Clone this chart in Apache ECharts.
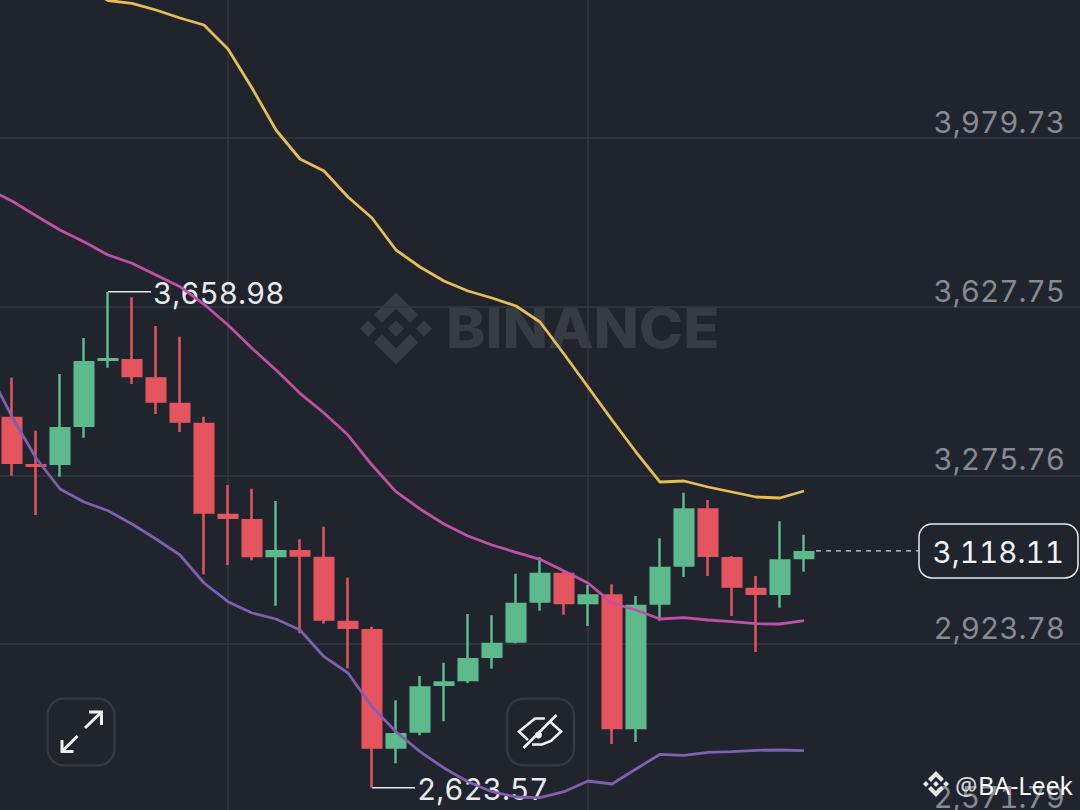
<!DOCTYPE html>
<html>
<head>
<meta charset="utf-8">
<style>html,body{margin:0;padding:0;background:#20242d}#chart{width:1080px;height:810px}#chart text{font-feature-settings:"tnum" 1 !important;font-variant-numeric:tabular-nums !important}</style>
<script src="https://cdn.jsdelivr.net/npm/echarts@6/dist/echarts.min.js"></script>
</head>
<body>
<div id="chart"></div>
<script>
// Candles: the first slot sits just off the left edge and only carries the band lines.
const opens = [null,3398.31,3299.56,3297.47,3376.80,3514.59,3518.77,3480.56,3427.53,3385.78,3195.80,3184.73,3104.78,3120.01,3106.03,2972.42,2955.09,2705.19,2738.59,2836.09,2845.90,2894.54,2926.49,3010.01,3072.62,3006.67,3027.53,2745.69,3005.83,3085.15,3207.07,3105.40,3041.30,3026.07,3100.60];
const closes = [null,3299.56,3293.29,3376.80,3514.59,3520.85,3480.56,3427.53,3385.78,3195.80,3184.73,3104.78,3120.01,3106.03,2972.42,2955.09,2705.19,2737.97,2835.46,2845.90,2894.54,2926.49,3010.01,3072.62,3006.67,3027.53,2745.69,3005.83,3085.15,3207.07,3105.40,3041.30,3026.07,3100.60,3118.11];
const lows = [null,3275.13,3193.08,3273.04,3354.46,3500.60,3466.57,3403.94,3366.36,3069.28,3088.70,3098.52,3003.73,2946.11,2966.16,2873.04,2623.57,2674.71,2733.16,2762.39,2842.35,2872.20,2925.23,2993.29,2984.94,2961.35,2715.00,2719.18,2972.42,3063.65,3065.73,2982.23,2907.07,2999.56,3074.72];
const highs = [null,3479.73,3369.08,3487.45,3562.61,3658.98,3647.58,3587.66,3565.32,3398.31,3255.72,3248.00,3222.31,3142.35,3168.66,3062.19,2959.88,2806.23,2856.96,2884.73,2986.40,2983.69,3070.54,3104.78,3075.13,3046.95,3048.41,3023.98,3144.44,3239.64,3224.40,3107.49,3065.73,3179.93,3151.96];
const upperBand = [null,null,null,null,4297.48,4267.21,4261.36,4247.37,4230.67,4216.06,4165.95,4084.53,3996.85,3936.31,3911.25,3856.97,3813.13,3746.33,3710.83,3681.61,3660.73,3646.12,3629.42,3596.01,3529.20,3460.31,3391.42,3324.61,3261.98,3264.07,3251.54,3241.11,3230.67,3228.58,3243.19];
const middleBand = [3873.67,3848.62,3817.93,3788.08,3763.65,3735.89,3718.56,3694.13,3669.70,3632.96,3589.75,3541.10,3495.80,3447.17,3406.03,3360.10,3297.47,3241.73,3205.61,3174.29,3149.24,3130.45,3115.21,3100.60,3076.17,3051.12,3009.37,2994.75,2975.96,2978.67,2973.88,2970.33,2966.15,2965.53,2972.42];
const lowerBand = [3495.80,3398.31,3312.08,3247.37,3220.22,3202.07,3174.29,3142.98,3109.58,3051.12,3012.08,2988.49,2975.96,2953.00,2897.25,2863.22,2792.87,2740.68,2698.93,2664.90,2636.30,2615.42,2604.35,2602.89,2615.42,2637.76,2631.49,2662.81,2693.50,2691.41,2697.67,2698.93,2701.85,2702.47,2701.01];
const slotCount = 46;
const categories = Array.from({length: slotCount}, (_, i) => String(i));
const verticalLineSlots = ['10', '25'];
const tickValues = [2571.79, 2923.78, 3275.76, 3627.75, 3979.73, 4331.72];
const extremeSlots = [5, 16];
const extremePrices = [3658.98, 2623.57];
const lastSlot = 34;
const lastPrice = 3118.11;

const fmt = v => v.toLocaleString('en-US', {minimumFractionDigits: 2, maximumFractionDigits: 2});
const FONT = 'Inter';
const FONT_SIZE = 29.7;
const GREEN = '#5cba8c', RED = '#e5555f';
const logoShapes = [
  [[38.73,53.2],[63.32,28.62],[87.92,53.22],[102.22,38.91],[63.32,0],[24.42,38.9]],
  [[0,63.31],[14.3,49],[28.61,63.31],[14.3,77.61]],
  [[38.73,73.41],[63.32,98],[87.92,73.4],[102.23,87.69],[63.33,126.6],[24.42,87.72]],
  [[98.01,63.31],[112.31,49],[126.61,63.3],[112.31,77.62]],
  [[77.83,63.3],[63.32,48.78],[48.81,63.28],[63.32,77.78]]
];
const logo = (x, y, size, fill, z) => ({
  type: 'group', x, y, scaleX: size / 126.61, scaleY: size / 126.61,
  children: logoShapes.map(points => ({type: 'polygon', z, shape: {points}, style: {fill}}))
});
const candleData = opens.map((o, i) => [o, closes[i], lows[i], highs[i]]);

const chart = echarts.init(document.getElementById('chart'), null, {renderer: 'svg'});
const btn = (x, y) => ({type: 'rect', z: 100, shape: {x, y, width: 67, height: 67, r: 17}, style: {fill: 'rgba(0,0,0,0)', stroke: '#353944', lineWidth: 2.5}});
const wl = (points, w) => ({type: 'polyline', z: 101, shape: {points}, style: {fill: null, stroke: '#f0f1f3', lineWidth: w || 3, lineJoin: 'miter'}});

chart.setOption({
  animation: false,
  backgroundColor: '#20242d',
  grid: {left: -24, width: 1104, top: -30.4, height: 843, outerBoundsMode: 'none'},
  xAxis: {
    type: 'category', data: categories, boundaryGap: true, show: true,
    axisLine: {show: false}, axisTick: {show: false}, axisLabel: {show: false}, splitLine: {show: false}
  },
  yAxis: {
    type: 'value', position: 'right', scale: true,
    min: tickValues[0], max: tickValues[tickValues.length - 1], interval: 351.986,
    axisLine: {show: false}, axisTick: {show: false},
    splitLine: {show: true, lineStyle: {color: '#333742', width: 1.5}},
    axisLabel: {
      inside: true, margin: 15, showMaxLabel: false, color: '#868a91',
      fontFamily: FONT, fontSize: FONT_SIZE, verticalAlign: 'bottom', padding: [0, 0, 1, 0],
      lineHeight: 30, formatter: fmt
    }
  },
  graphic: [
    logo(360, 292.5, 72, '#373b44', -1),
    {type: 'text', z: -1, x: 446, y: 328, scaleX: 1.08, style: {text: 'BINANCE', font: '800 55px Inter', fill: '#373b44', textVerticalAlign: 'middle'}},
    btn(47.5, 698.5),
    wl([[85, 728], [101.5, 712]]), wl([[89, 712], [101.5, 712], [101.5, 725]]),
    wl([[77.5, 736], [62, 751.5]]), wl([[62, 740], [62, 751.5], [73.5, 751.5]]),
    btn(507, 698.5),
    wl([[523.5, 748], [556.5, 715]], 2.6),
    wl([[545, 718.5], [535, 718.5], [519, 731.5], [528, 740]], 2.6),
    wl([[550, 721.5], [561, 731.5], [551, 741], [542, 744.5], [532, 744.5]], 2.6),
    {type: 'circle', z: 101, shape: {cx: 538.5, cy: 735, r: 3.5}, style: {fill: '#f0f1f3'}},
    logo(923, 771, 26, '#e6e7e9', 100),
    {type: 'text', z: 100, x: 955, y: 785, style: {text: '@', font: '25px "Noto Sans"', fill: '#d5d6d8', textVerticalAlign: 'middle'}},
    {type: 'text', z: 100, x: 978, y: 785, style: {text: 'BA-Leek', font: '25px "Noto Sans"', fill: '#ffffff', textVerticalAlign: 'middle'}}
  ],
  series: [
    {
      name: 'Wicks', type: 'candlestick', z: 2, barWidth: 1,
      data: candleData,
      itemStyle: {color: GREEN, color0: RED, borderColor: GREEN, borderColor0: RED, borderWidth: 2.5},
      markLine: {
        silent: true, z: 1, symbol: 'none', label: {show: false},
        lineStyle: {color: '#333742', width: 1.5, type: 'solid'},
        data: verticalLineSlots.map(s => ({xAxis: s}))
      }
    },
    {
      name: 'Price', type: 'candlestick', z: 2, barWidth: 21.4,
      data: candleData,
      itemStyle: {color: GREEN, color0: RED, borderColor: GREEN, borderColor0: RED, borderWidth: 0}
    },
    {
      name: 'Extremes', type: 'custom', z: 2,
      data: extremeSlots.map((s, i) => [s, extremePrices[i]]),
      renderItem(params, api) {
        const c = api.coord([api.value(0), api.value(1)]);
        return {type: 'group', children: [
          {type: 'line', shape: {x1: c[0], y1: c[1], x2: c[0] + 43, y2: c[1]}, style: {stroke: '#e8eaed', lineWidth: 1.5}},
          {type: 'text', x: c[0] + 45, y: c[1] + 1, style: {text: fmt(api.value(1)), font: FONT_SIZE + 'px ' + FONT, fill: '#e8eaed', textVerticalAlign: 'middle'}}
        ]};
      }
    },
    {name: 'Upper', type: 'line', z: 3, data: upperBand, showSymbol: false, connectNulls: false, lineStyle: {color: '#e8bd52', width: 2.8}},
    {name: 'Middle', type: 'line', z: 3, data: middleBand, showSymbol: false, lineStyle: {color: '#c050a8', width: 2.8}},
    {name: 'Lower', type: 'line', z: 3, data: lowerBand, showSymbol: false, lineStyle: {color: '#7e5fb0', width: 2.8}},
    {
      name: 'Last', type: 'custom', z: 4, data: [[lastSlot, lastPrice]],
      renderItem(params, api) {
        const c = api.coord([api.value(0), api.value(1)]);
        return {type: 'group', children: [
          {type: 'line', shape: {x1: c[0] + 12, y1: c[1], x2: 918, y2: c[1]}, style: {stroke: '#d4d6d9', lineWidth: 1.2, lineDash: [5, 5]}},
          {type: 'rect', shape: {x: 919, y: c[1] - 27, width: 159, height: 54, r: 13}, style: {fill: '#20242d', stroke: '#e8eaed', lineWidth: 1.5}},
          {type: 'text', x: 1064, y: c[1] + 1, style: {text: fmt(api.value(1)), font: FONT_SIZE + 'px ' + FONT, fill: '#f2f3f5', textAlign: 'right', textVerticalAlign: 'middle'}}
        ]};
      }
    }
  ]
});
</script>
</body>
</html>
